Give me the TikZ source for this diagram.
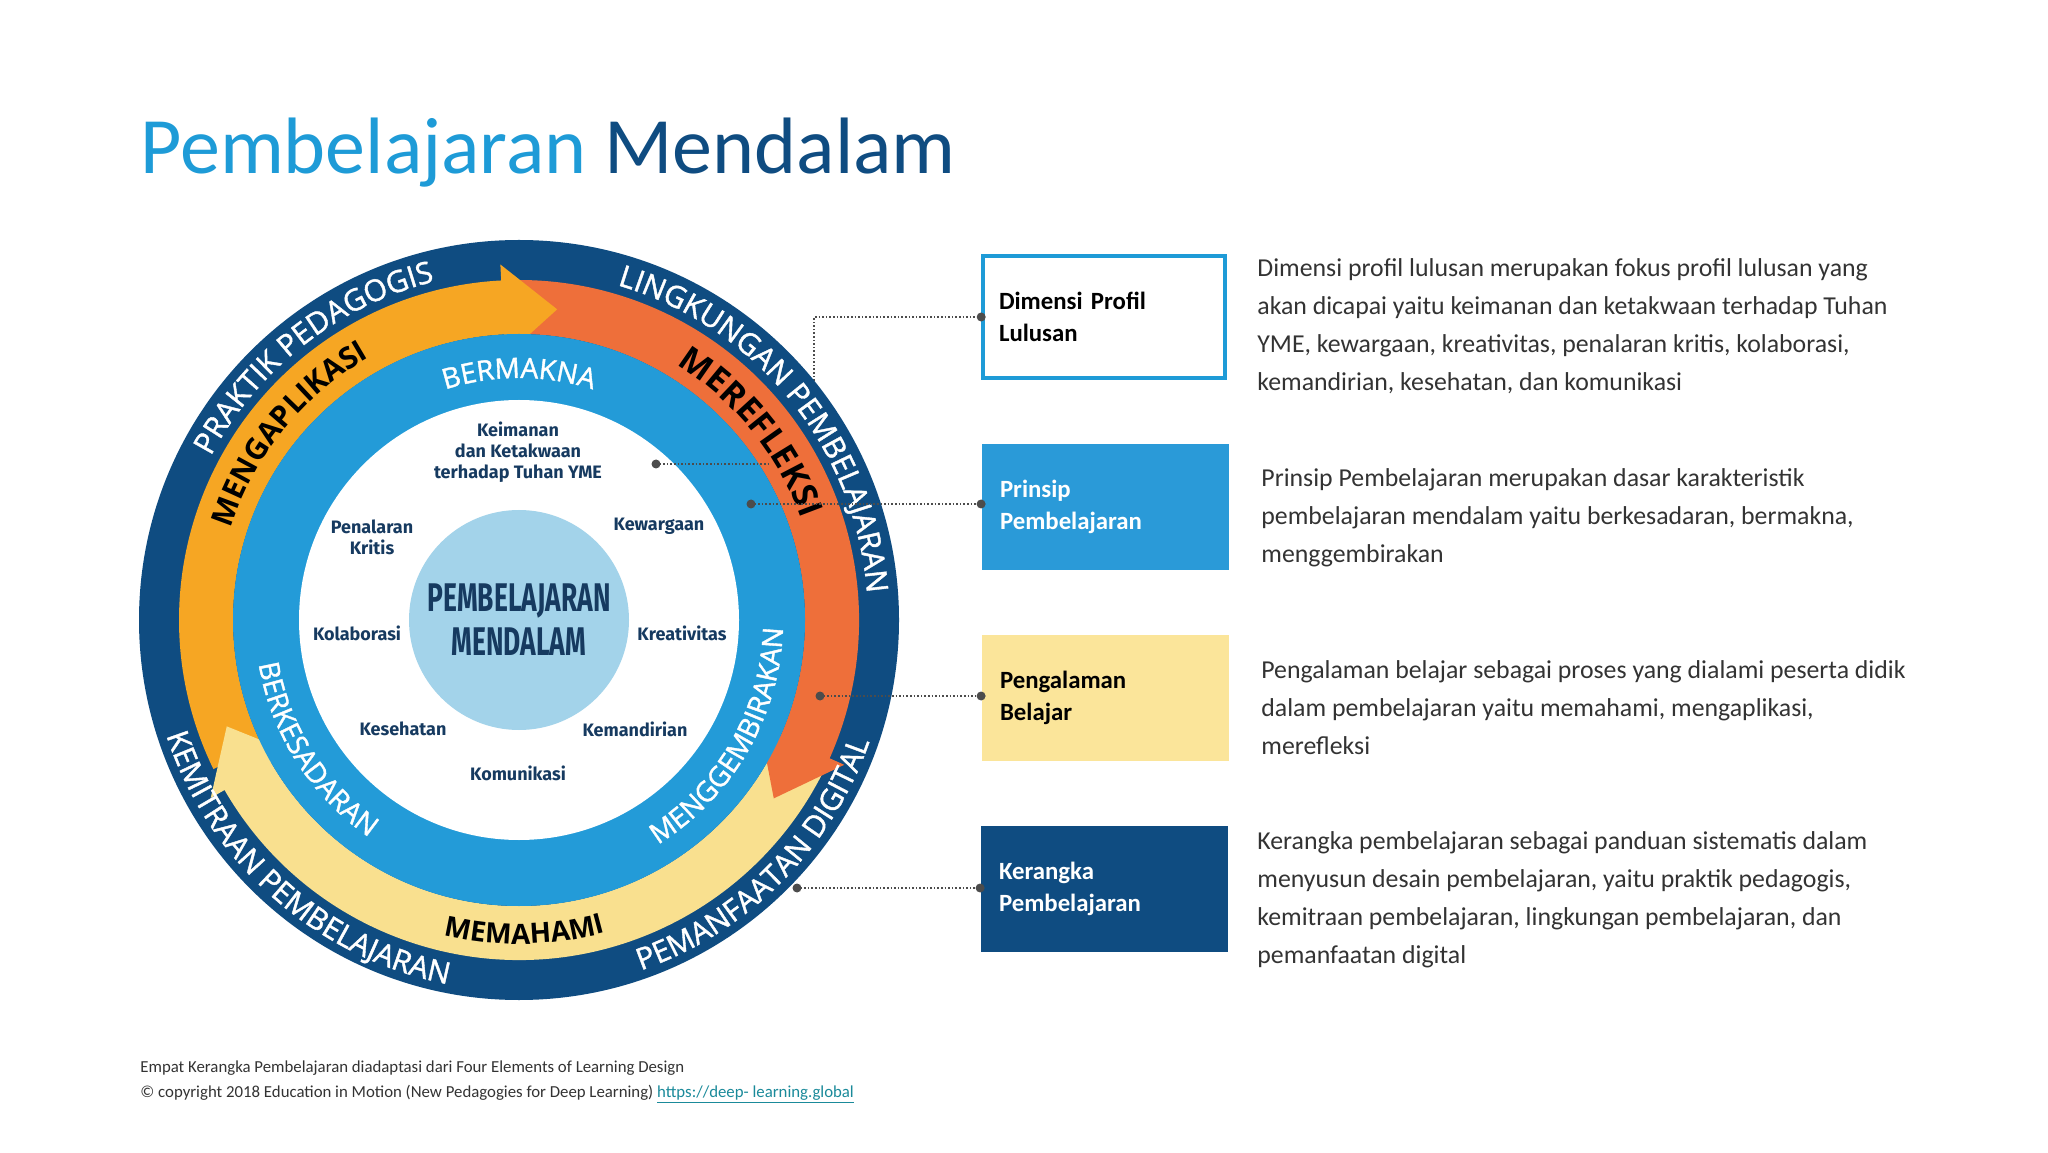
\documentclass[tikz,border=0pt]{standalone}
\usepackage{fontspec}
\setmainfont{Carlito}
\newfontfamily\ringf{Open Sans}
\newfontfamily\ringsb{Open Sans}[BoldFont={Open Sans},BoldFeatures={FakeBold=1.3}]
\newfontfamily\firaf{Fira Sans}
\usetikzlibrary{decorations.text}
\definecolor{dkblue}{HTML}{0F4C81}
\definecolor{ltblue}{HTML}{1E9BD7}
\definecolor{midblue}{HTML}{239BD8}
\definecolor{orng}{HTML}{F6A623}
\definecolor{redo}{HTML}{EE6F3A}
\definecolor{yell}{HTML}{F9E08F}
\definecolor{pale}{HTML}{A3D3EA}
\definecolor{navy}{HTML}{163A60}
\definecolor{txtg}{HTML}{333333}
\definecolor{boxyel}{HTML}{FBE59A}
\definecolor{boxblue}{HTML}{2A9AD8}
\definecolor{linkc}{HTML}{1A8A9A}
\newcommand\annsec[5]{\fill[#1,shift={(519,532)}] (#2:#4) arc[start angle=#2,end angle=#3,radius=#4] -- (#3:#5) arc[start angle=#3,end angle=#2,radius=#5] -- cycle;}
\newcommand\arhead[4]{\fill[#1,shift={(519,532)}] (#2:264) -- (#2:356) -- (#3:#4) -- cycle;}
\newcommand\arctext[5]{\path[shift={(519,532)},decorate,decoration={text along path,text align=center,text={|#5|#4}}] (#1:#3) arc[start angle=#1,end angle=#2,radius=#3];}
\begin{document}
\begin{tikzpicture}[x=0.5pt,y=0.5pt,
  infobox/.style={minimum width=123.5pt,minimum height=63pt,inner sep=0pt,text width=105pt,align=left,font=\fontsize{12.4}{16}\selectfont\bfseries},
  desc/.style={anchor=north west,inner sep=0pt,align=left,text=txtg,font=\fontsize{12.9}{19}\selectfont},
  lbl/.style={text=navy,align=center,font=\firaf\fontsize{9}{10.5}\selectfont\bfseries},
  conn/.style={densely dotted,line width=0.8pt,color=black!70},
  dotm/.style={circle,fill=black!70,inner sep=0pt,minimum size=4.5pt}]
\useasboundingbox (0,0) rectangle (2048,1152);
\fill[white] (0,0) rectangle (2048,1152);
% title
\node[anchor=base west,inner sep=0pt,font=\fontsize{40}{46}\selectfont] (title) at (140,978) {\textcolor{ltblue}{Pembelajaran} \textcolor{dkblue}{Mendalam}};
\coordinate (d1) at (656,688);
\coordinate (e1) at (768,688);
\coordinate (k1) at (814,688);
\coordinate (d2) at (751,648);
\coordinate (d3) at (820,456);
\coordinate (d4) at (797,264);
\node[infobox,draw=ltblue,line width=1.8pt,fill=white,text=black,minimum width=121pt,minimum height=61pt] (b1) at (1104,835) {Dimensi Profil\\Lulusan};
\node[infobox,fill=boxblue,text=white] (b2) at (1105,645) {Prinsip\\Pembelajaran};
\node[infobox,fill=boxyel,text=black] (b3) at (1105,454) {Pengalaman\\Belajar};
\node[infobox,fill=dkblue,text=white] (b4) at (1104,263) {Kerangka\\Pembelajaran};
\draw[conn] (d1) -- (k1) |- (b1.west);
% circle
\fill[dkblue] (519,532) circle[radius=380];
\annsec{orng}{91}{206}{340}{286}
\annsec{redo}{-28}{92}{340}{286}
\annsec{yell}{208}{333}{340}{286}
\arhead{orng}{93}{83}{313}
\arhead{redo}{-24}{-35}{311}
\arhead{yell}{210}{200}{311}
\fill[midblue] (519,532) circle[radius=286];
\fill[white] (519,532) circle[radius=220];
\fill[pale] (519,532) circle[radius=110];
\node[text=navy,align=center,font=\firaf\fontsize{20}{22}\selectfont\bfseries] (ctr) at (519,532) {\scalebox{0.66}[1]{PEMBELAJARAN}\\\scalebox{0.66}[1]{MENDALAM}};
% ring texts
\arctext{174}{82}{349}{PRAKTIK PEDAGOGIS}{\ringsb\bfseries\fontsize{15}{15}\selectfont\color{white}}
\arctext{86}{-8}{349}{LINGKUNGAN PEMBELAJARAN}{\ringsb\bfseries\fontsize{15}{15}\selectfont\color{white}}
\arctext{185}{272}{371}{KEMITRAAN PEMBELAJARAN}{\ringsb\bfseries\fontsize{15}{15}\selectfont\color{white}}
\arctext{280}{350}{371}{PEMANFAATAN DIGITAL}{\ringsb\bfseries\fontsize{15}{15}\selectfont\color{white}}
\arctext{182}{100}{302}{MENGAPLIKASI}{\ringf\fontsize{15}{15}\selectfont\bfseries\color{black}}
\arctext{68}{10}{300}{MEREFLEKSI}{\ringf\fontsize{17}{17}\selectfont\bfseries\color{black}}
\arctext{245}{297}{324}{MEMAHAMI}{\ringf\fontsize{14}{14}\selectfont\bfseries\color{black}}
\arctext{115}{65}{242}{BERMAKNA}{\ringsb\bfseries\fontsize{14}{14}\selectfont\color{white}}
\arctext{170}{255}{264}{BERKESADARAN}{\ringsb\bfseries\fontsize{14}{14}\selectfont\color{white}}
\arctext{285}{375}{264}{MENGGEMBIRAKAN}{\ringsb\bfseries\fontsize{14}{14}\selectfont\color{white}}
% inner labels
\node[lbl] (l1) at (518,700) {Keimanan\\dan Ketakwaan\\terhadap Tuhan YME};
\node[lbl] (l2) at (372,615) {Penalaran\\Kritis};
\node[lbl] (l3) at (659,626) {Kewargaan};
\node[lbl] (l4) at (357,519) {Kolaborasi};
\node[lbl] (l5) at (682,519) {Kreativitas};
\node[lbl] (l6) at (403,423) {Kesehatan};
\node[lbl] (l7) at (635,423) {Kemandirian};
\node[lbl] (l8) at (518,379) {Komunikasi};
% visible connectors
\draw[conn] (d1) -- (e1);
\draw[conn] (d2) -- (d2 -| b2.west);
\draw[conn] (d3) -- (d3 -| b3.west);
\draw[conn] (d4) -- (d4 -| b4.west);
\foreach \p in {d1,d2,d3,d4,b1.west} \node[dotm] at (\p) {};
\foreach \p/\q in {d2/b2,d3/b3,d4/b4} \node[dotm] at (\p -| \q.west) {};
% descriptions
\node[desc] (t1) at (1257,894) {Dimensi profil lulusan merupakan fokus profil lulusan yang\\akan dicapai yaitu keimanan dan ketakwaan terhadap Tuhan\\YME, kewargaan, kreativitas, penalaran kritis, kolaborasi,\\kemandirian, kesehatan, dan komunikasi};
\node[desc] (t2) at (1261,684) {Prinsip Pembelajaran merupakan dasar karakteristik\\pembelajaran mendalam yaitu berkesadaran, bermakna,\\menggembirakan};
\node[desc] (t3) at (1261,492) {Pengalaman belajar sebagai proses yang dialami peserta didik\\dalam pembelajaran yaitu memahami, mengaplikasi,\\merefleksi};
\node[desc] (t4) at (1257,321) {Kerangka pembelajaran sebagai panduan sistematis dalam\\menyusun desain pembelajaran, yaitu praktik pedagogis,\\kemitraan pembelajaran, lingkungan pembelajaran, dan\\pemanfaatan digital};
% footer
\node[anchor=base west,inner sep=0pt,text=txtg,font=\fontsize{8.4}{9}\selectfont] (f1) at (140,80) {Empat Kerangka Pembelajaran diadaptasi dari Four Elements of Learning Design};
\node[anchor=base west,inner sep=0pt,text=txtg,font=\fontsize{8.4}{9}\selectfont] (f2) at (140,55) {\textcopyright{} copyright 2018 Education in Motion (New Pedagogies for Deep Learning) \textcolor{linkc}{\underline{https://deep- learning.global}}};
\end{tikzpicture}
\end{document}
